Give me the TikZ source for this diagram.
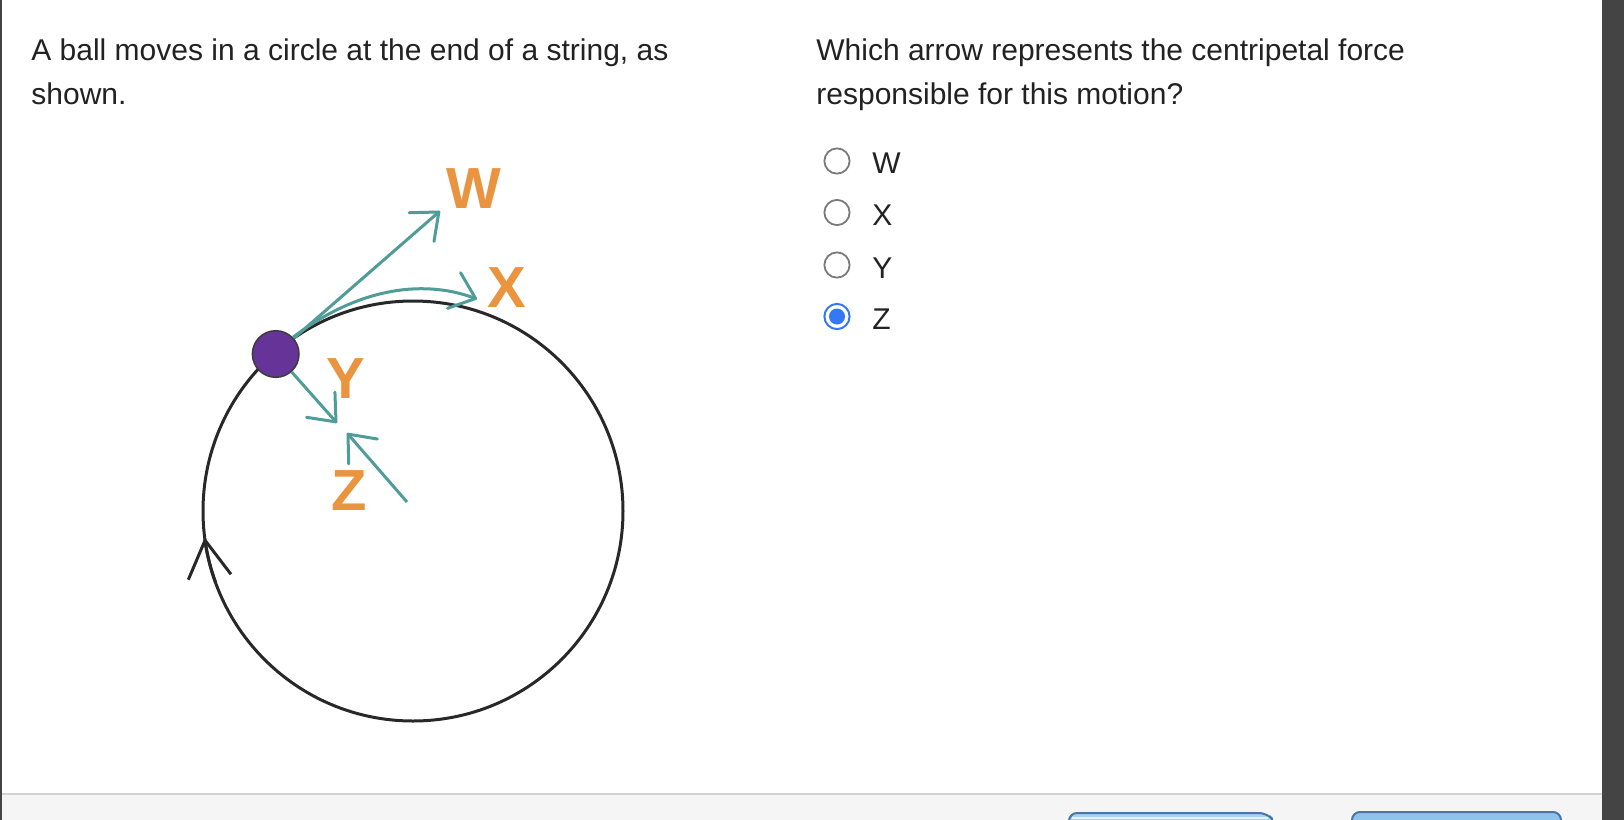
\documentclass[tikz,border=0pt]{standalone}
\usepackage{fontspec}
\setmainfont{Liberation Sans}
\usetikzlibrary{arrows.meta}
\definecolor{tealc}{HTML}{4F9C98}
\definecolor{orangec}{HTML}{EA9440}
\definecolor{purplec}{HTML}{663399}
\definecolor{txt}{HTML}{222222}
\definecolor{frame}{HTML}{444444}
\definecolor{radiog}{HTML}{7A7A7A}
\definecolor{radiob}{HTML}{3478F6}
\definecolor{btnborder}{HTML}{4A76A5}
\definecolor{btnfill}{HTML}{8FC3EC}
\definecolor{btnfilltwo}{HTML}{A9D2F2}
\definecolor{barfill}{HTML}{F5F5F5}
\definecolor{barline}{HTML}{D2D2D2}
\definecolor{ringc}{HTML}{282828}
\definecolor{ballline}{HTML}{3C3C3C}
\tikzset{
  bodytext/.style={anchor=base west, inner sep=0pt, text=txt, font=\fontsize{15pt}{18pt}\selectfont},
  lbl/.style={inner sep=0pt, text=orangec, font=\fontsize{29pt}{34pt}\selectfont\bfseries},
  tarrow/.style={draw=tealc, line width=1.5pt, -{Straight Barb[length=11.5pt, width=19pt, round]}},
  radio/.style={circle, draw=radiog, line width=0.9pt, minimum size=12.6pt, inner sep=0pt},
}
\begin{document}
\begin{tikzpicture}[x=0.5pt,y=-0.5pt]
\useasboundingbox (0,0) rectangle (1624,820);
\fill[white] (0,0) rectangle (1624,820);
% bottom bar
\fill[barfill] (2,795) rectangle (1602,820);
\draw[barline, line width=1pt] (2,794) -- (1602,794);
% buttons
\filldraw[fill=btnfilltwo, draw=btnborder, line width=1pt, rounded corners=4pt]
  (1069,830) -- (1069,813) -- (1267,813) -- (1275,822) -- (1275,830);
\draw[white!70!btnfilltwo, line width=1pt] (1072,818) -- (1268,818);
\filldraw[fill=btnfill, draw=btnborder, line width=1pt, rounded corners=4pt]
  (1352,830) -- (1352,812) -- (1561,812) -- (1561,830);
% side strips
\fill[frame] (0,0) rectangle (2,820);
\fill[frame] (1602,0) rectangle (1624,820);
% texts
\node[bodytext] (q1) at (31,60) {A ball moves in a circle at the end of a string, as};
\node[bodytext] (q2) at (31,104) {shown.};
\node[bodytext] (p1) at (816,60) {Which arrow represents the centripetal force};
\node[bodytext] (p2) at (816,104) {responsible for this motion?};
% radio options
\node[radio] (rW) at (837,161) {};
\node[radio] (rX) at (837,212.5) {};
\node[radio] (rY) at (837,265) {};
\node[circle, draw=radiob, line width=1pt, minimum size=12.6pt, inner sep=0pt] (rZ) at (837,316.5) {};
\fill[radiob] (rZ.center) circle[radius=8];
\node[bodytext] (oW) at (872,173.5) {W};
\node[bodytext] (oX) at (872,225) {X};
\node[bodytext] (oY) at (872,278) {Y};
\node[bodytext] (oZ) at (872,329.5) {Z};
% circle path
\coordinate (C) at (413,511);
\draw[ringc, line width=1.5pt] (C) circle[radius=210];
\draw[ringc, line width=1.5pt, -{Straight Barb[length=18.5pt, width=21.5pt]}]
  ([shift={(160:210)}]C) arc[start angle=160, end angle=172.8, radius=210];
% ball
\node[circle, fill=purplec, draw=ballline, line width=0.75pt, minimum size=23.3pt, inner sep=0pt] (ball) at (275.7,354) {};
% arrows
\coordinate (Wtip) at (440,211);
\coordinate (Xtip) at (477,299);
\coordinate (Ytip) at (337,423);
\coordinate (Zstart) at (407,502);
\coordinate (Ztip) at (347,433);
\draw[tarrow] (ball) -- (Wtip);
\draw[tarrow] (ball.44) .. controls (355,290) and (420,278) .. (Xtip);
\draw[tarrow] (ball) -- (Ytip);
\draw[tarrow] (Zstart) -- (Ztip);
% labels
\node[lbl] (lW) at (474,189) {W};
\node[lbl] (lX) at (507,288) {X};
\node[lbl] (lY) at (346,379) {Y};
\node[lbl] (lZ) at (349,491) {Z};
\end{tikzpicture}
\end{document}
